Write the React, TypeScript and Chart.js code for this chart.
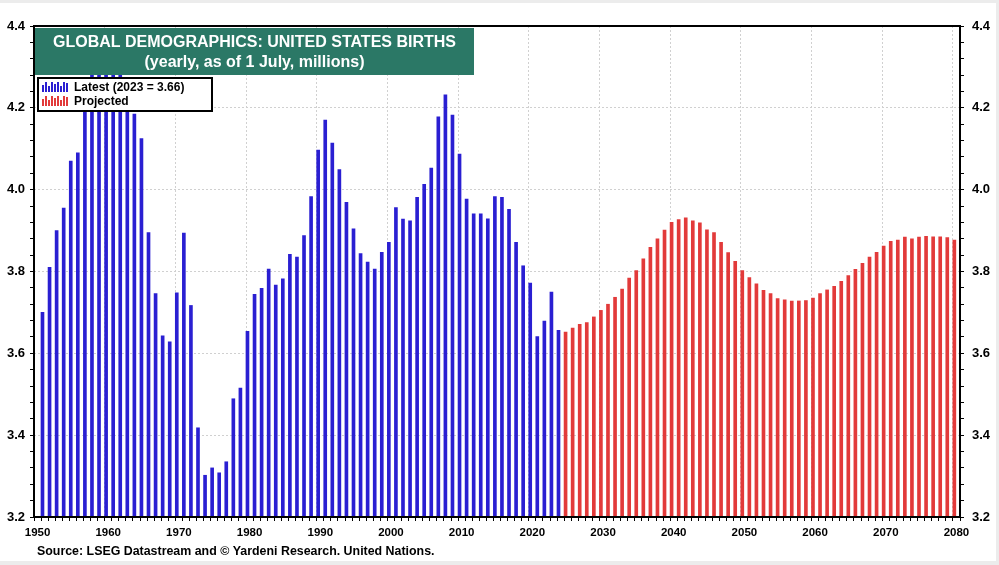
import React, { useEffect, useRef } from "react";
import { Chart, registerables } from "chart.js";

Chart.register(...registerables);

// ---------------- DATA ----------------
const latestYears = [
  1950, 1951, 1952, 1953, 1954, 1955, 1956, 1957, 1958, 1959,
  1960, 1961, 1962, 1963, 1964, 1965, 1966, 1967, 1968, 1969,
  1970, 1971, 1972, 1973, 1974, 1975, 1976, 1977, 1978, 1979,
  1980, 1981, 1982, 1983, 1984, 1985, 1986, 1987, 1988, 1989,
  1990, 1991, 1992, 1993, 1994, 1995, 1996, 1997, 1998, 1999,
  2000, 2001, 2002, 2003, 2004, 2005, 2006, 2007, 2008, 2009,
  2010, 2011, 2012, 2013, 2014, 2015, 2016, 2017, 2018, 2019,
  2020, 2021, 2022, 2023,
];
const latestValues = [
  3.70, 3.81, 3.90, 3.955, 4.07, 4.09, 4.26, 4.30, 4.31, 4.30,
  4.30, 4.30, 4.24, 4.185, 4.125, 3.895, 3.746, 3.643, 3.628, 3.748,
  3.894, 3.717, 3.418, 3.302, 3.32, 3.308, 3.335, 3.489, 3.515, 3.654,
  3.744, 3.759, 3.806, 3.767, 3.782, 3.842, 3.835, 3.888, 3.983, 4.097,
  4.170, 4.114, 4.049, 3.969, 3.904, 3.844, 3.823, 3.806, 3.847, 3.871,
  3.956, 3.928, 3.924, 3.981, 4.013, 4.053, 4.178, 4.232, 4.182, 4.087,
  3.977, 3.941, 3.941, 3.929, 3.983, 3.981, 3.952, 3.871, 3.814, 3.772,
  3.641, 3.679, 3.750, 3.656,
];
const projectedYears = [
  2024, 2025, 2026, 2027, 2028, 2029, 2030, 2031, 2032, 2033,
  2034, 2035, 2036, 2037, 2038, 2039, 2040, 2041, 2042, 2043,
  2044, 2045, 2046, 2047, 2048, 2049, 2050, 2051, 2052, 2053,
  2054, 2055, 2056, 2057, 2058, 2059, 2060, 2061, 2062, 2063,
  2064, 2065, 2066, 2067, 2068, 2069, 2070, 2071, 2072, 2073,
  2074, 2075, 2076, 2077, 2078, 2079,
];
const projectedValues = [
  3.652, 3.662, 3.671, 3.675, 3.689, 3.705, 3.720, 3.737, 3.757, 3.784,
  3.802, 3.831, 3.859, 3.880, 3.901, 3.920, 3.927, 3.931, 3.924, 3.919,
  3.902, 3.895, 3.871, 3.846, 3.825, 3.802, 3.785, 3.770, 3.754, 3.746,
  3.734, 3.731, 3.728, 3.728, 3.729, 3.735, 3.746, 3.755, 3.764, 3.776,
  3.790, 3.805, 3.820, 3.835, 3.847, 3.862, 3.874, 3.877, 3.884, 3.880,
  3.884, 3.886, 3.885, 3.885, 3.883, 3.877,
];
const xTickLabels = ["1950", "1960", "1970", "1980", "1990", "2000", "2010", "2020", "2030", "2040", "2050", "2060", "2070", "2080"];
const yTickLabels = ["3.2", "3.4", "3.6", "3.8", "4.0", "4.2", "4.4"];

const TITLE_1 = "GLOBAL DEMOGRAPHICS: UNITED STATES BIRTHS";
const TITLE_2 = "(yearly, as of 1 July, millions)";
const LEGEND_1 = "Latest (2023 = 3.66)";
const LEGEND_2 = "Projected";
const SOURCE = "Source: LSEG Datastream and \u00A9 Yardeni Research. United Nations.";

// ---------------- STYLE ----------------
const X_MIN = 1950;
const X_MAX = 2080;
const Y_MIN = 3.2;
const Y_MAX = 4.4;
const MIDYEAR = 0.7; // bars are plotted at mid-year
const BLUE = "#2a1fd2";
const RED = "#e23a3a";
const TEAL = "#2b7866";
const GRID = "#d0d0d0";
const FONT = "'Liberation Sans', Arial, sans-serif";

const W = 999;
const H = 565;

const isMajorY = (v: number) => Math.abs(v * 5 - Math.round(v * 5)) < 1e-6;

const overlayPlugin = {
  id: "overlay",
  beforeDraw(chart: any) {
    const ctx = chart.ctx;
    ctx.save();
    ctx.fillStyle = "#ececec";
    ctx.fillRect(0, 0, W, H);
    ctx.fillStyle = "#ffffff";
    ctx.fillRect(0, 3, W - 3, 558);
    ctx.restore();
  },
  afterDatasetsDraw(chart: any) {
    const ctx = chart.ctx;
    const a = chart.chartArea;
    ctx.save();
    ctx.strokeStyle = "#000";
    ctx.lineWidth = 2;
    ctx.strokeRect(a.left, a.top, a.right - a.left, a.bottom - a.top);
    ctx.restore();
  },
  afterDraw(chart: any) {
    const ctx = chart.ctx;
    const a = chart.chartArea;
    ctx.save();
    // title box
    const bx = a.left + 1;
    const by = a.top + 2;
    const bw = 439;
    const bh = 47;
    ctx.fillStyle = TEAL;
    ctx.fillRect(bx, by, bw, bh);
    ctx.fillStyle = "#ffffff";
    ctx.font = `bold 16px ${FONT}`;
    ctx.textAlign = "center";
    ctx.textBaseline = "alphabetic";
    ctx.fillText(TITLE_1, bx + bw / 2, by + 19);
    ctx.fillText(TITLE_2, bx + bw / 2, by + 39);

    // legend box
    const lx = a.left + 4;
    const ly = by + bh + 3;
    const lw = 174;
    const lh = 33;
    ctx.fillStyle = "#ffffff";
    ctx.fillRect(lx, ly, lw, lh);
    ctx.strokeStyle = "#000";
    ctx.lineWidth = 2;
    ctx.strokeRect(lx, ly, lw, lh);
    const drawIcon = (x: number, y: number, color: string) => {
      const hs = [7, 10, 6, 10, 8, 10, 6, 10, 9];
      ctx.fillStyle = color;
      for (let i = 0; i < hs.length; i++) {
        ctx.fillRect(x + i * 3, y + 10 - hs[i], 2, hs[i]);
      }
    };
    drawIcon(lx + 4, ly + 4, BLUE);
    drawIcon(lx + 4, ly + 18, RED);
    ctx.fillStyle = "#000";
    ctx.font = `bold 12px ${FONT}`;
    ctx.textAlign = "left";
    ctx.fillText(LEGEND_1, lx + 36, ly + 13);
    ctx.fillText(LEGEND_2, lx + 36, ly + 27);

    // source
    ctx.font = `bold 12.4px ${FONT}`;
    ctx.fillStyle = "#000";
    ctx.fillText(SOURCE, 37, 555);
    ctx.restore();
  },
};

export default function App() {
  const ref = useRef<HTMLCanvasElement | null>(null);

  useEffect(() => {
    document.body.style.margin = "0";
    const canvas = ref.current;
    if (!canvas) return;

    const xTicks: number[] = [];
    for (let y = X_MIN; y <= X_MAX; y++) xTicks.push(y);
    const yTicks: number[] = [];
    for (let k = 0; k <= Math.round((Y_MAX - Y_MIN) / 0.04); k++) {
      yTicks.push(Math.round((Y_MIN + k * 0.04) * 100) / 100);
    }

    const yAxis = (position: "left" | "right", width: number, padding: number, onArea: boolean) => ({
      type: "linear",
      position,
      min: Y_MIN,
      max: Y_MAX,
      afterBuildTicks: (s: any) => {
        s.ticks = yTicks.map((v) => ({ value: v }));
      },
      afterFit: (s: any) => {
        s.width = width;
      },
      ticks: {
        autoSkip: false,
        padding,
        color: "#000",
        font: { family: FONT, size: 13, weight: "bold" },
        callback: (v: any) => {
          if (!isMajorY(v)) return "";
          const s = Number(v).toFixed(1);
          return yTickLabels.includes(s) ? s : "";
        },
      },
      grid: {
        drawOnChartArea: onArea,
        color: (c: any) => (c.tick && isMajorY(c.tick.value) ? GRID : "rgba(0,0,0,0)"),
        tickColor: "#000",
        tickLength: 4,
        lineWidth: 1,
      },
      border: { display: false, dash: [2, 2] },
    });

    const chart = new Chart(canvas, {
      type: "bar",
      data: {
        datasets: [
          {
            label: LEGEND_1,
            data: latestYears.map((yr, i) => ({ x: yr + MIDYEAR, y: latestValues[i] })),
            backgroundColor: BLUE,
            barThickness: 3,
            grouped: false,
            base: Y_MIN,
            yAxisID: "y",
          },
          {
            label: LEGEND_2,
            data: projectedYears.map((yr, i) => ({ x: yr + MIDYEAR, y: projectedValues[i] })),
            backgroundColor: RED,
            barThickness: 3,
            grouped: false,
            base: Y_MIN,
            yAxisID: "y",
          },
        ],
      } as any,
      options: {
        animation: false,
        responsive: false,
        devicePixelRatio: 1,
        layout: { padding: { top: 26, bottom: 0, left: 0, right: 0 } },
        plugins: {
          legend: { display: false },
          tooltip: { enabled: false },
          title: { display: false },
        },
        scales: {
          x: {
            type: "linear",
            position: "bottom",
            min: X_MIN,
            max: X_MAX,
            afterBuildTicks: (s: any) => {
              s.ticks = xTicks.map((v) => ({ value: v }));
            },
            afterFit: (s: any) => {
              s.height = 48;
            },
            ticks: {
              autoSkip: false,
              maxRotation: 0,
              minRotation: 0,
              padding: 5,
              color: "#000",
              font: { family: FONT, size: 11.5, weight: "bold" },
              callback: (v: any) => {
                const s = String(v);
                return xTickLabels.includes(s) ? s : "";
              },
            },
            grid: {
              color: (c: any) => (c.tick && xTickLabels.includes(String(c.tick.value)) ? GRID : "rgba(0,0,0,0)"),
              tickColor: "#000",
              tickLength: 4,
              lineWidth: 1,
            },
            border: { display: false, dash: [2, 2] },
          },
          y: yAxis("left", 34, 5, true),
          y2: yAxis("right", 39, 8, false),
        } as any,
      },
      plugins: [overlayPlugin],
    });

    return () => chart.destroy();
  }, []);

  return (
    <div style={{ position: "absolute", left: 0, top: 0, width: W, height: H }}>
      <canvas ref={ref} width={W} height={H} style={{ display: "block", width: W, height: H }} />
    </div>
  );
}
